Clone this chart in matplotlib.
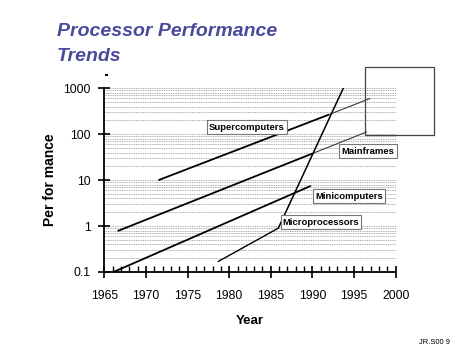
import matplotlib
matplotlib.use("Agg")
import matplotlib.pyplot as plt
from matplotlib.patches import Rectangle
import numpy as np

plt.rcParams['font.family'] = ['Liberation Sans', 'DejaVu Sans']

# ---- data (year, performance) ----
super_years = [1971.5, 1992.0, 1996.9]
super_perf = [10, 268, 600]
main_years = [1966.6, 1990.0, 1996.5]
main_perf = [0.78, 38, 112]
mini_years = [1966.1, 1989.8]
mini_perf = [0.1, 7.5]
micro_years = [1978.7, 1985.9, 1993.7]
micro_perf = [0.17, 0.9, 1000]

labels = ["Supercomputers", "Mainframes", "Minicomputers", "Microprocessors"]
label_pos = [(247, 127), (368, 151), (349, 196), (321, 222)]  # pixel positions

x_ticks = [1965, 1970, 1975, 1980, 1985, 1990, 1995, 2000]
y_ticks = [0.1, 1, 10, 100, 1000]
y_ticklabels = ["0.1", "1", "10", "100", "1000"]

W, H = 474, 355
fig = plt.figure(figsize=(W / 100, H / 100), dpi=100)
ax = fig.add_axes([104.3 / W, 1 - 272 / H, (395.7 - 104.3) / W, (272 - 88.3) / H])
ax.set_yscale('log')
ax.set_xlim(1965, 2000)
ax.set_ylim(0.1, 1000)

# gridlines at every minor decade step
for dec in [0.1, 1, 10, 100]:
    for m in range(1, 10):
        v = dec * m
        if v <= 0.1:
            continue
        ax.axhline(v, color='#a8a8a8', lw=0.7, ls=(0, (1, 0.8)), zorder=1)
ax.axhline(1000, color='#a8a8a8', lw=0.7, ls=(0, (1, 0.8)), zorder=1)

def draw(xs, ys, split):
    ax.plot(xs[:split + 1], ys[:split + 1], color='black', lw=1.3, zorder=3,
            solid_capstyle='butt')
    if split < len(xs) - 1:
        ax.plot(xs[split:], ys[split:], color='#3a3a3a', lw=0.8, zorder=3)

draw(super_years, super_perf, 1)
draw(main_years, main_perf, 1)
draw(mini_years, mini_perf, 1)
ax.plot(micro_years[:2], micro_perf[:2], color='black', lw=1.0, zorder=3)
ax.plot(micro_years[1:], micro_perf[1:], color='black', lw=1.1, zorder=3)

for sp in ['top', 'right']:
    ax.spines[sp].set_visible(False)
ax.spines['left'].set_linewidth(1.3)
ax.spines['bottom'].set_linewidth(1.3)

ax.set_xticks(x_ticks)
ax.set_xticks(np.arange(1966, 2000, 1), minor=True)
ax.set_yticks(y_ticks)
ax.set_yticklabels(y_ticklabels)
ax.yaxis.set_minor_locator(matplotlib.ticker.NullLocator())
ax.tick_params(axis='both', which='major', direction='inout', length=8, width=1.2,
               labelsize=8.8, pad=6)
ax.tick_params(axis='x', which='minor', direction='in', length=4, width=1.0)
ax.tick_params(axis='x', which='major', pad=9)

ax.set_xlabel("Year", fontsize=9.5, fontweight='bold', labelpad=9)
fig.text(50 / W, 1 - 180 / H, "Per for mance", rotation=90, fontsize=10,
         fontweight='bold', ha='center', va='center')

for lab, (px, py) in zip(labels, label_pos):
    fig.text(px / W, 1 - py / H, lab, fontsize=6.8, fontweight='bold',
             ha='center', va='center', zorder=5,
             bbox=dict(boxstyle='square,pad=0.22', fc='white', ec='#777777', lw=0.8))

# empty box in upper right
fig.patches.append(Rectangle((365 / W, 1 - 135 / H), (434 - 365) / W, (135 - 66.7) / H,
                             transform=fig.transFigure, fill=False, ec='#444444', lw=0.9))

# small marker above axis
fig.patches.append(Rectangle((105 / W, 1 - 76 / H), 2.5 / W, 2.5 / H,
                             transform=fig.transFigure, fc='black', ec='none'))

title_color = '#4a4a9c'
fig.text(57 / W, 1 - 36 / H, "Processor Performance", fontsize=14, fontweight='bold',
         style='italic', color=title_color, ha='left', va='baseline')
fig.text(57 / W, 1 - 61 / H, "Trends", fontsize=14, fontweight='bold',
         style='italic', color=title_color, ha='left', va='baseline')

fig.text(450 / W, 1 - 342 / H, "JR.S00 9", fontsize=5.5, ha='right', va='center')

fig.savefig("out.png", dpi=100)
